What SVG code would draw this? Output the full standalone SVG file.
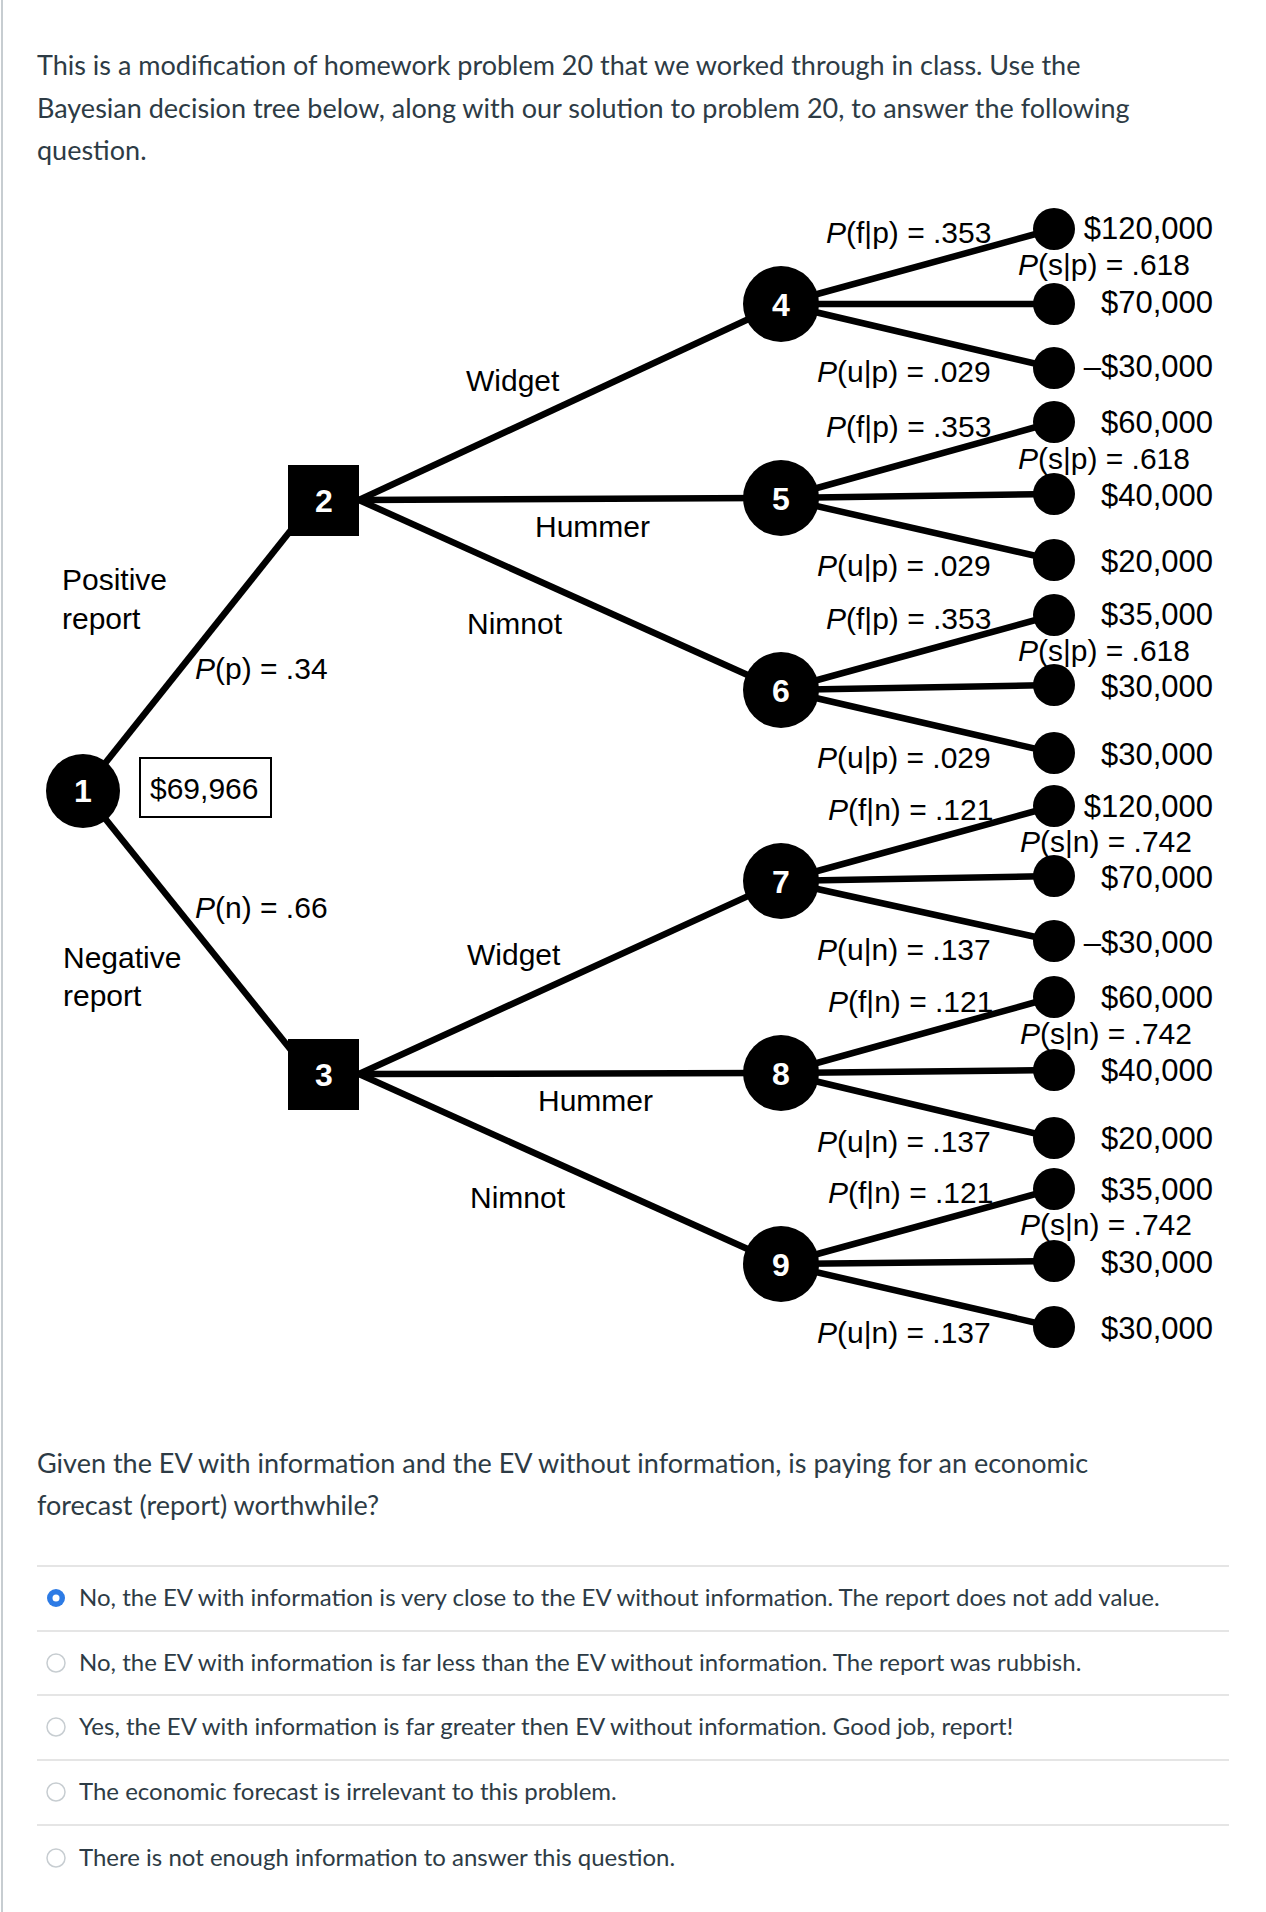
<svg xmlns="http://www.w3.org/2000/svg" width="1266" height="1912" viewBox="0 0 1266 1912">
<style>
.q{font-family:Lato,"Liberation Sans",sans-serif;font-size:27px;fill:#2d3b45}
.o{font-family:Lato,"Liberation Sans",sans-serif;font-size:24px;fill:#2d3b45}
.t{font-family:"Liberation Sans",Arial,sans-serif;font-size:30px;fill:#000}
.pr{font-family:"Liberation Sans",Arial,sans-serif;font-size:30px;fill:#000}
.pay{font-family:"Liberation Sans",Arial,sans-serif;font-size:31px;fill:#000;text-anchor:end}
.w{font-family:"Liberation Sans",Arial,sans-serif;font-size:32px;fill:#fff;font-weight:bold;text-anchor:middle}
.e{stroke:#000;stroke-width:6.5;fill:none}
.sep{stroke:#dcdcdc;stroke-width:1.5}
.rad{fill:#fff;stroke:#c7cdd1;stroke-width:1.5}
</style>
<rect width="1266" height="1912" fill="#fff"/>
<line x1="2" y1="0" x2="2" y2="1912" stroke="#c7cdd1" stroke-width="2"/>
<text class="q" x="37" y="75">This is a modification of homework problem 20 that we worked through in class. Use the</text>
<text class="q" x="37" y="118">Bayesian decision tree below, along with our solution to problem 20, to answer the following</text>
<text class="q" x="37" y="160">question.</text>
<g id="connectors" class="e">
<line x1="83" y1="791" x2="295" y2="525"/>
<line x1="83" y1="791" x2="295" y2="1055"/>
<line x1="359" y1="500" x2="781" y2="304"/>
<line x1="359" y1="500" x2="781" y2="498"/>
<line x1="359" y1="500" x2="781" y2="690"/>
<line x1="359" y1="1074" x2="781" y2="881"/>
<line x1="359" y1="1074" x2="781" y2="1073"/>
<line x1="359" y1="1074" x2="781" y2="1264"/>
<line x1="781" y1="304" x2="1054" y2="229"/><line x1="781" y1="304" x2="1054" y2="304"/><line x1="781" y1="304" x2="1054" y2="368"/>
<line x1="781" y1="498" x2="1054" y2="422"/><line x1="781" y1="498" x2="1054" y2="494"/><line x1="781" y1="498" x2="1054" y2="560"/>
<line x1="781" y1="690" x2="1054" y2="615"/><line x1="781" y1="690" x2="1054" y2="685"/><line x1="781" y1="690" x2="1054" y2="753"/>
<line x1="781" y1="881" x2="1054" y2="806"/><line x1="781" y1="881" x2="1054" y2="876"/><line x1="781" y1="881" x2="1054" y2="941"/>
<line x1="781" y1="1073" x2="1054" y2="997"/><line x1="781" y1="1073" x2="1054" y2="1070"/><line x1="781" y1="1073" x2="1054" y2="1138"/>
<line x1="781" y1="1264" x2="1054" y2="1189"/><line x1="781" y1="1264" x2="1054" y2="1261"/><line x1="781" y1="1264" x2="1054" y2="1327"/>
</g>
<g id="n1"><circle cx="83" cy="791" r="37"/><text class="w" x="83" y="802">1</text></g>
<g id="ev"><rect x="140" y="758" width="131" height="59" fill="#fff" stroke="#000" stroke-width="2"/><text class="t" x="150" y="799">$69,966</text></g>
<g id="n2"><rect x="288" y="465" width="71" height="71"/><text class="w" x="324" y="512">2</text></g>
<g id="n3"><rect x="288" y="1039" width="71" height="71"/><text class="w" x="324" y="1086">3</text></g>
<g id="n4"><circle cx="781" cy="304" r="38"/><text class="w" x="781" y="316">4</text></g>
<g id="n5"><circle cx="781" cy="498" r="38"/><text class="w" x="781" y="510">5</text></g>
<g id="n6"><circle cx="781" cy="690" r="38"/><text class="w" x="781" y="702">6</text></g>
<g id="n7"><circle cx="781" cy="881" r="38"/><text class="w" x="781" y="893">7</text></g>
<g id="n8"><circle cx="781" cy="1073" r="38"/><text class="w" x="781" y="1085">8</text></g>
<g id="n9"><circle cx="781" cy="1264" r="38"/><text class="w" x="781" y="1276">9</text></g>
<g id="ends">
<circle cx="1054" cy="229" r="21"/><circle cx="1054" cy="304" r="21"/><circle cx="1054" cy="368" r="21"/>
<circle cx="1054" cy="422" r="21"/><circle cx="1054" cy="494" r="21"/><circle cx="1054" cy="560" r="21"/>
<circle cx="1054" cy="615" r="21"/><circle cx="1054" cy="685" r="21"/><circle cx="1054" cy="753" r="21"/>
<circle cx="1054" cy="806" r="21"/><circle cx="1054" cy="876" r="21"/><circle cx="1054" cy="941" r="21"/>
<circle cx="1054" cy="997" r="21"/><circle cx="1054" cy="1070" r="21"/><circle cx="1054" cy="1138" r="21"/>
<circle cx="1054" cy="1189" r="21"/><circle cx="1054" cy="1261" r="21"/><circle cx="1054" cy="1327" r="21"/>
</g>
<g id="tree-labels">
<text class="t" x="62" y="590">Positive</text><text class="t" x="62" y="629">report</text>
<text class="t" x="63" y="968">Negative</text><text class="t" x="63" y="1006">report</text>
<text class="pr" x="195" y="679"><tspan font-style="italic">P</tspan>(p) = .34</text>
<text class="pr" x="195" y="918"><tspan font-style="italic">P</tspan>(n) = .66</text>
<text class="t" x="466" y="391">Widget</text>
<text class="t" x="535" y="537">Hummer</text>
<text class="t" x="467" y="634">Nimnot</text>
<text class="t" x="467" y="965">Widget</text>
<text class="t" x="538" y="1111">Hummer</text>
<text class="t" x="470" y="1208">Nimnot</text>
</g>
<g id="probs" class="pr">
<text x="826" y="243"><tspan font-style="italic">P</tspan>(f|p) = .353</text>
<text x="1190" y="275" text-anchor="end"><tspan font-style="italic">P</tspan>(s|p) = .618</text>
<text x="817" y="382"><tspan font-style="italic">P</tspan>(u|p) = .029</text>
<text x="826" y="437"><tspan font-style="italic">P</tspan>(f|p) = .353</text>
<text x="1190" y="469" text-anchor="end"><tspan font-style="italic">P</tspan>(s|p) = .618</text>
<text x="817" y="576"><tspan font-style="italic">P</tspan>(u|p) = .029</text>
<text x="826" y="629"><tspan font-style="italic">P</tspan>(f|p) = .353</text>
<text x="1190" y="661" text-anchor="end"><tspan font-style="italic">P</tspan>(s|p) = .618</text>
<text x="817" y="768"><tspan font-style="italic">P</tspan>(u|p) = .029</text>
<text x="828" y="820"><tspan font-style="italic">P</tspan>(f|n) = .121</text>
<text x="1192" y="852" text-anchor="end"><tspan font-style="italic">P</tspan>(s|n) = .742</text>
<text x="817" y="960"><tspan font-style="italic">P</tspan>(u|n) = .137</text>
<text x="828" y="1012"><tspan font-style="italic">P</tspan>(f|n) = .121</text>
<text x="1192" y="1044" text-anchor="end"><tspan font-style="italic">P</tspan>(s|n) = .742</text>
<text x="817" y="1152"><tspan font-style="italic">P</tspan>(u|n) = .137</text>
<text x="828" y="1203"><tspan font-style="italic">P</tspan>(f|n) = .121</text>
<text x="1192" y="1235" text-anchor="end"><tspan font-style="italic">P</tspan>(s|n) = .742</text>
<text x="817" y="1343"><tspan font-style="italic">P</tspan>(u|n) = .137</text>
</g>
<g id="payoffs" class="pay">
<text x="1213" y="239">$120,000</text><text x="1213" y="313">$70,000</text><text x="1213" y="377">–$30,000</text>
<text x="1213" y="433">$60,000</text><text x="1213" y="506">$40,000</text><text x="1213" y="572">$20,000</text>
<text x="1213" y="625">$35,000</text><text x="1213" y="697">$30,000</text><text x="1213" y="765">$30,000</text>
<text x="1213" y="817">$120,000</text><text x="1213" y="888">$70,000</text><text x="1213" y="953">–$30,000</text>
<text x="1213" y="1008">$60,000</text><text x="1213" y="1081">$40,000</text><text x="1213" y="1149">$20,000</text>
<text x="1213" y="1200">$35,000</text><text x="1213" y="1273">$30,000</text><text x="1213" y="1339">$30,000</text>
</g>
<text class="q" x="37" y="1473">Given the EV with information and the EV without information, is paying for an economic</text>
<text class="q" x="37" y="1515">forecast (report) worthwhile?</text>
<g id="options">
<line class="sep" x1="37" y1="1566" x2="1229" y2="1566"/>
<line class="sep" x1="37" y1="1631" x2="1229" y2="1631"/>
<line class="sep" x1="37" y1="1695" x2="1229" y2="1695"/>
<line class="sep" x1="37" y1="1760" x2="1229" y2="1760"/>
<line class="sep" x1="37" y1="1825" x2="1229" y2="1825"/>
<circle cx="56" cy="1598" r="9" fill="#2d7be5"/><circle cx="56" cy="1598" r="3.5" fill="#fff"/>
<text class="o" x="79" y="1606">No, the EV with information is very close to the EV without information. The report does not add value.</text>
<circle class="rad" cx="56" cy="1663" r="9"/>
<text class="o" x="79" y="1671">No, the EV with information is far less than the EV without information. The report was rubbish.</text>
<circle class="rad" cx="56" cy="1727" r="9"/>
<text class="o" x="79" y="1735">Yes, the EV with information is far greater then EV without information. Good job, report!</text>
<circle class="rad" cx="56" cy="1792" r="9"/>
<text class="o" x="79" y="1800">The economic forecast is irrelevant to this problem.</text>
<circle class="rad" cx="56" cy="1858" r="9"/>
<text class="o" x="79" y="1866">There is not enough information to answer this question.</text>
</g>
</svg>
